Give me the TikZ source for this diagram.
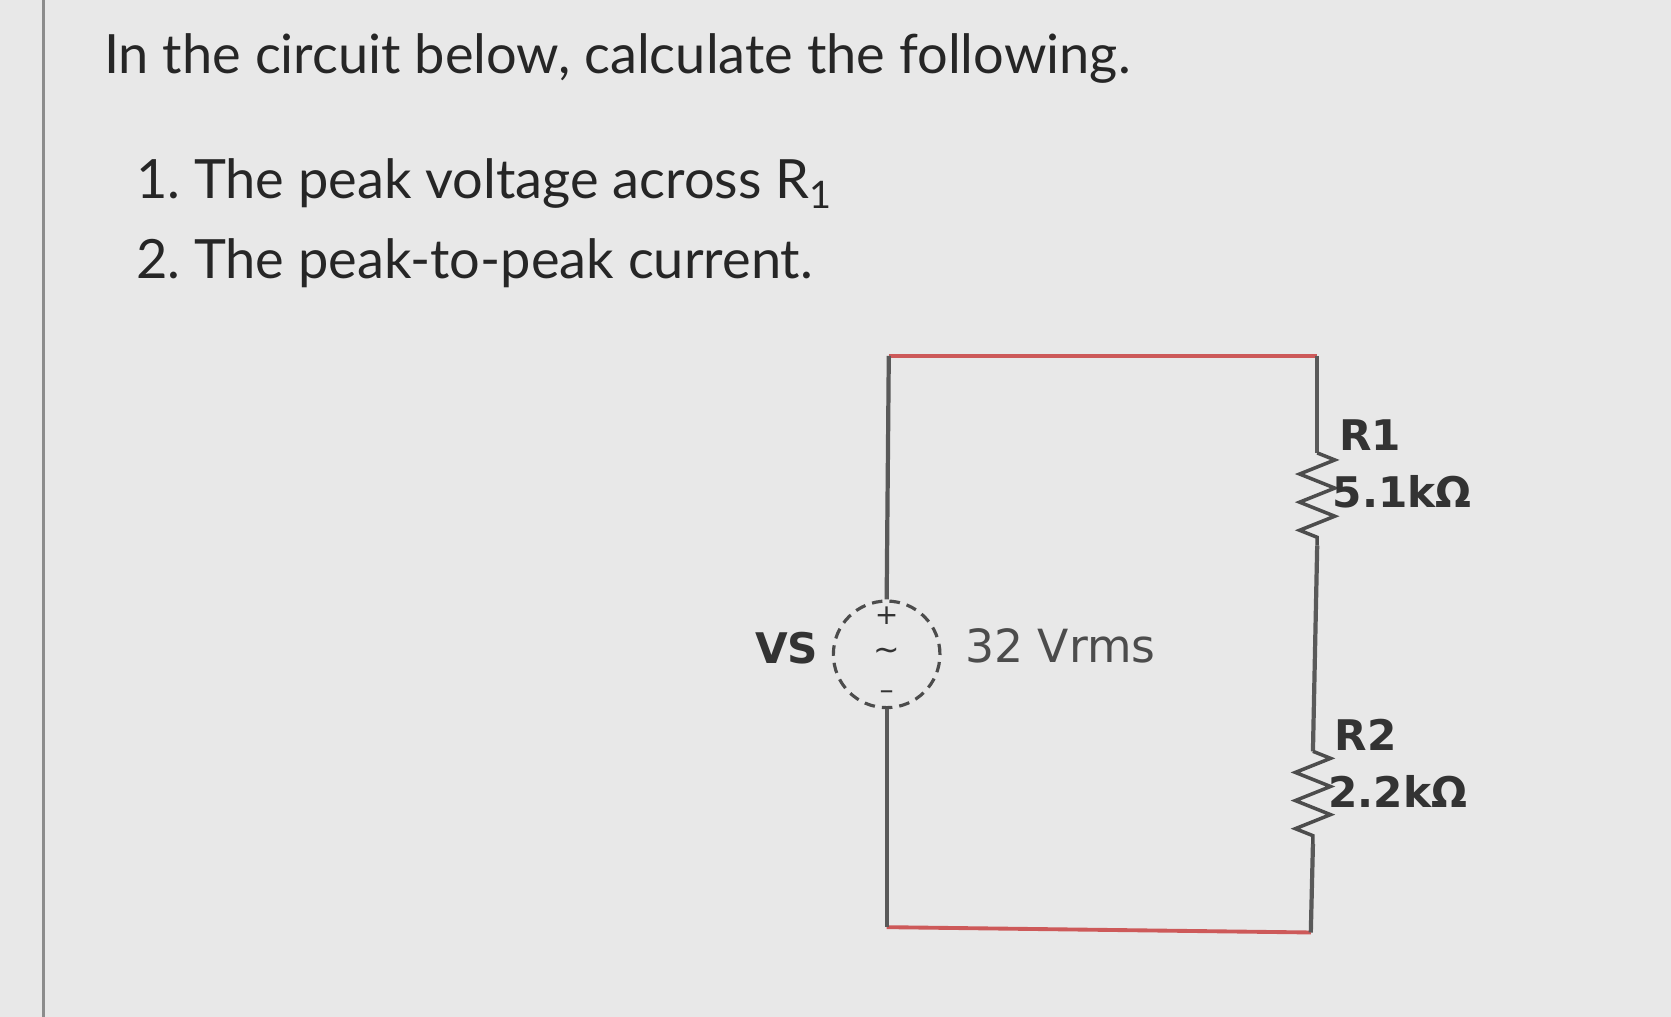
\documentclass[tikz,border=0pt]{standalone}
\usepackage{fontspec}
\setmainfont{Lato}
\newfontfamily\tahfont{DejaVu Sans}
\usetikzlibrary{decorations.pathmorphing}
\begin{document}
\begin{tikzpicture}[x=0.010657cm,y=-0.010657cm,
  wire/.style={line width=1.1pt,draw=red!70!black!65},
  gwire/.style={line width=1.2pt,draw=black!65},
  res/.style={line width=1pt,draw=black!70,decorate,decoration={zigzag,segment length=8,amplitude=5}},
  lab/.style={font=\tahfont\bfseries\fontsize{12}{12}\selectfont,text=black!80,anchor=west,inner sep=0},
  q/.style={font=\fontsize{15.4}{17}\selectfont,text=black!85,anchor=west,inner sep=0}]
\fill[black!9] (0,0) rectangle (1568,954);
\useasboundingbox (0,0) rectangle (1568,954);
\draw[black!45,line width=1pt] (41,0) -- (41,954);
\node[q] (t) at (97,55) {In the circuit below, calculate the following.};
\node[q] (i1) at (127,172) {1.\ The peak voltage across R\textsubscript{1}};
\node[q] (i2) at (127,247) {2.\ The peak-to-peak current.};
% circuit
\coordinate (tl) at (834,334); \coordinate (tr) at (1236,334);
\coordinate (bl) at (832,870); \coordinate (br) at (1230,875);
\node[circle,draw=black!70,densely dashed,line width=0.9pt,minimum size=100*0.010657cm,inner sep=0] (vs) at (832,614) {};
\draw[wire] (tl) -- (tr);
\draw[wire] (bl) -- (br);
\draw[gwire] (tl) -- (vs.north);
\draw[gwire] (vs.south) -- (bl);
\coordinate (r1a) at (1236,425); \coordinate (r1b) at (1236,512);
\coordinate (r2a) at (1232,705); \coordinate (r2b) at (1232,792);
\draw[gwire] (tr) -- (r1a);
\draw[res] (r1a) -- (r1b);
\draw[gwire] (r1b) -- (r2a);
\draw[res] (r2a) -- (r2b);
\draw[gwire] (r2b) -- (br);
\node[font=\tahfont\fontsize{8}{8}\selectfont,text=black!80] (pl) at (832,578) {+};
\node[font=\tahfont\fontsize{9}{9}\selectfont,text=black!80] (tilde) at (832,614) {∼};
\node[font=\tahfont\fontsize{8}{8}\selectfont,text=black!80] (mn) at (832,652) {–};
\node[lab] (vsl) at (708,608) {VS};
\node[lab,font=\tahfont\fontsize{13}{13}\selectfont,text=black!70] (vr) at (905,606) {32 Vrms};
\node[lab] (r1l) at (1256,408) {R1};
\node[lab] (r1v) at (1250,461) {5.1kΩ};
\node[lab] (r2l) at (1252,690) {R2};
\node[lab] (r2v) at (1246,743) {2.2kΩ};
\end{tikzpicture}
\end{document}
